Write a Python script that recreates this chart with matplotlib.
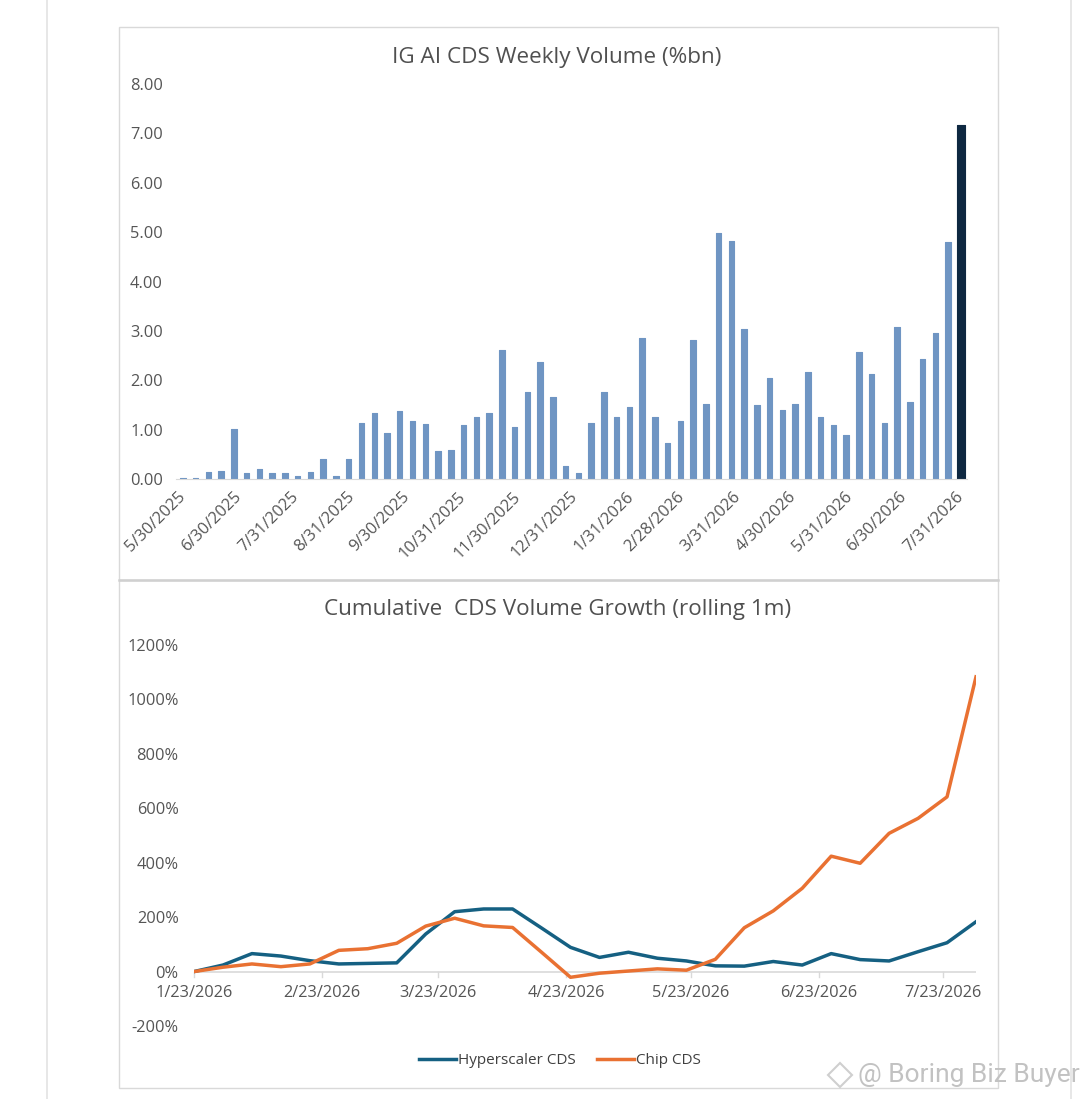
import pandas as pd
import matplotlib
matplotlib.use("Agg")
import matplotlib.pyplot as plt
from matplotlib.patches import Rectangle

plt.rcParams['font.family'] = ['Open Sans', 'DejaVu Sans']

# ---- data ----
# weekly IG AI CDS volume ($bn), 5/30/2025 .. 7/31/2026
bar_start = "2025-05-30"
weekly_vol = [0.03, 0.03, 0.15, 0.17, 1.02, 0.12, 0.20, 0.12, 0.12, 0.06,
              0.15, 0.40, 0.06, 0.40, 1.14, 1.34, 0.94, 1.37, 1.17, 1.11,
              0.57, 0.59, 1.09, 1.25, 1.34, 2.62, 1.06, 1.77, 2.37, 1.66,
              0.27, 0.12, 1.13, 1.77, 1.26, 1.46, 2.86, 1.26, 0.73, 1.18,
              2.81, 1.52, 4.99, 4.82, 3.04, 1.50, 2.04, 1.40, 1.52, 2.17,
              1.26, 1.09, 0.89, 2.58, 2.12, 1.13, 3.08, 1.55, 2.44, 2.95,
              4.80, 7.17]
top_ticks = ["2025-05-30", "2025-06-30", "2025-07-31", "2025-08-31", "2025-09-30",
             "2025-10-31", "2025-11-30", "2025-12-31", "2026-01-31", "2026-02-28",
             "2026-03-31", "2026-04-30", "2026-05-31", "2026-06-30", "2026-07-31"]

# rolling 1m cumulative growth (%), weekly from 1/23/2026
line_start = "2026-01-23"
hyperscaler = [0, 24, 66, 57, 40, 28, 30, 32, 138, 220, 230, 230, 160, 89,
               52, 71, 49, 39, 21, 20, 37, 24, 66, 44, 39, 73, 106, 183]
chip = [0, 16, 28, 18, 28, 78, 84, 104, 167, 196, 168, 162, 71, -21,
        -6, 2, 10, 5, 45, 161, 223, 306, 424, 398, 508, 563, 642, 1083]
bottom_ticks = ["2026-01-23", "2026-02-23", "2026-03-23", "2026-04-23",
                "2026-05-23", "2026-06-23", "2026-07-23"]

W, H = 1080, 1099
GRAY_TXT = "#555555"
AXIS_CLR = "#D9D9D9"


def box(l, t, r, b):
    return [l / W, 1 - b / H, (r - l) / W, (b - t) / H]


def mdy(d):
    return f"{d.month}/{d.day}/{d.year}"


fig = plt.figure(figsize=(W / 100, H / 100), dpi=100)
fig.patch.set_facecolor("white")

# page frame / chart boxes
bg = fig.add_axes([0, 0, 1, 1], zorder=0)
bg.set_xlim(0, W)
bg.set_ylim(H, 0)
bg.axis("off")
bg.plot([47, 47], [0, H], color="#E3E3E3", lw=1.2)
bg.plot([1071, 1071], [0, H], color="#E3E3E3", lw=1.2)
bg.add_patch(Rectangle((119, 27), 879, 553, fill=False, ec=AXIS_CLR, lw=1.0))
bg.add_patch(Rectangle((119, 580), 879, 508, fill=False, ec=AXIS_CLR, lw=1.0))
bg.plot([119, 998], [580, 580], color="#D0D0D0", lw=1.8)

# ---- top: weekly volume bars ----
ax1 = fig.add_axes(box(176, 84, 967, 479), zorder=1)
dates = pd.date_range(bar_start, periods=len(weekly_vol), freq="7D")
colors = ["#6F95C3"] * (len(weekly_vol) - 1) + ["#0E2841"]
widths = [3.0] * (len(weekly_vol) - 1) + [4.4]
ax1.bar(dates, weekly_vol, width=widths, color=colors, edgecolor=colors,
        linewidth=0.8, joinstyle="round", zorder=2)
ax1.set_ylim(0, 8)
ax1.set_xlim(dates[0] - pd.Timedelta(days=3.8), dates[-1] + pd.Timedelta(days=3.3))
ax1.set_yticks(range(0, 9))
ax1.set_yticklabels([f"{v:.2f}" for v in range(0, 9)])
tt = pd.to_datetime(top_ticks)
ax1.set_xticks(tt)
ax1.set_xticklabels([mdy(d) for d in tt], rotation=45, ha="right", va="center",
                    rotation_mode="anchor")
for s in ["top", "right", "left"]:
    ax1.spines[s].set_visible(False)
ax1.spines["bottom"].set_color(AXIS_CLR)
ax1.tick_params(axis="both", length=0, colors=GRAY_TXT, labelsize=11.8)
ax1.tick_params(axis="x", pad=11)
ax1.tick_params(axis="y", pad=9.5)
fig.text(557 / W, 1 - 58 / H, "IG AI CDS Weekly Volume (%bn)", ha="center",
         va="center", fontsize=16.2, color="#505050")

# ---- bottom: cumulative growth lines ----
ax2 = fig.add_axes(box(194, 645, 976, 1026), zorder=1)
ldates = pd.date_range(line_start, periods=len(hyperscaler), freq="7D")
ax2.plot(ldates, hyperscaler, color="#156082", lw=2.5, label="Hyperscaler CDS",
         solid_joinstyle="round", zorder=3)
ax2.plot(ldates, chip, color="#E97132", lw=2.5, label="Chip CDS",
         solid_joinstyle="round", zorder=3)
ax2.set_ylim(-200, 1200)
ax2.set_xlim(ldates[0], ldates[-1])
ax2.set_yticks(range(-200, 1201, 200))
ax2.set_yticklabels([f"{v}%" for v in range(-200, 1201, 200)])
ax2.set_xticks([])
for s in ["top", "right", "left", "bottom"]:
    ax2.spines[s].set_visible(False)
ax2.axhline(0, color=AXIS_CLR, lw=1.2, zorder=1)
ax2.tick_params(axis="y", length=0, colors=GRAY_TXT, labelsize=11.8, pad=11)
# date labels sit just under the 0% line
for d in pd.to_datetime(bottom_ticks):
    ax2.text(d, -80, mdy(d), ha="center", va="center", fontsize=11.8,
             color=GRAY_TXT, clip_on=False)
    ax2.plot([d, d], [0, -20], color=AXIS_CLR, lw=1.0, zorder=1, clip_on=False)
fig.text(558 / W, 1 - 610 / H, "Cumulative  CDS Volume Growth (rolling 1m)",
         ha="center", va="center", fontsize=16.2, color="#505050")

fig.legend(loc="center", bbox_to_anchor=(560 / W, 1 - 1061 / H), ncol=2,
           frameon=False, fontsize=11, handlelength=2.4, handletextpad=0.15,
           columnspacing=1.4, labelcolor="#404040")

# watermark
bg.plot([840], [1075], marker="D", ms=12, mfc="none", mec="#CFCFCF", mew=1.5)
bg.text(858, 1075, "@ Boring Biz Buyer", fontsize=19, color="#C2C2C2",
        ha="left", va="center", family=["Roboto", "DejaVu Sans"])

fig.savefig("out.png", dpi=100, facecolor="white")
